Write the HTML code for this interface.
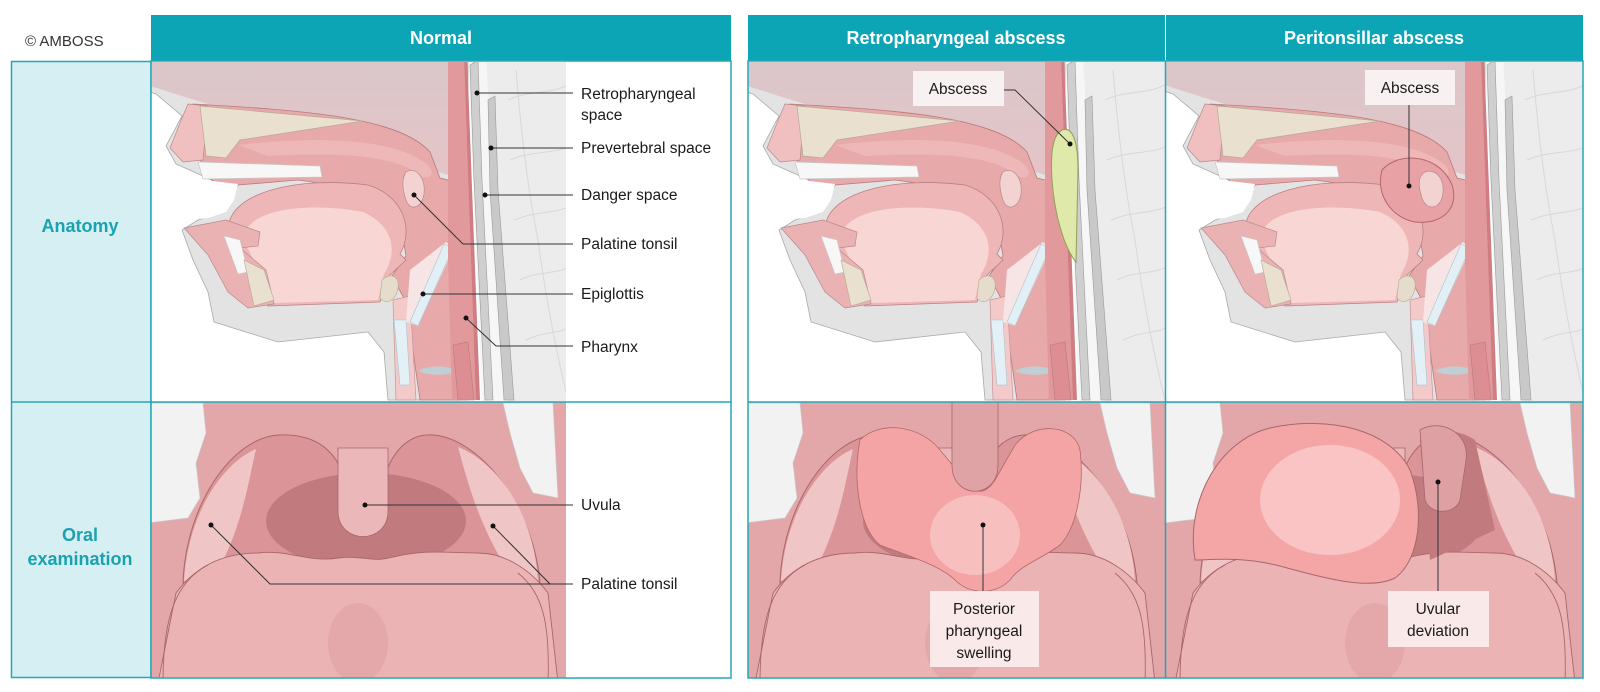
<!DOCTYPE html>
<html><head><meta charset="utf-8"><style>
html,body{margin:0;padding:0;background:#fff;}
svg{display:block;}
text{font-family:"Liberation Sans",Arial,sans-serif;}
</style></head><body>
<svg width="1600" height="692" viewBox="0 0 1600 692" xmlns="http://www.w3.org/2000/svg">
<defs>
<clipPath id="cN1"><rect x="151" y="62" width="415" height="340"/></clipPath>
<clipPath id="cR1"><rect x="748" y="62" width="417" height="340"/></clipPath>
<clipPath id="cP1"><rect x="1165" y="62" width="418" height="340"/></clipPath>
<clipPath id="cN2"><rect x="151" y="402" width="415" height="276"/></clipPath>
<clipPath id="cR2"><rect x="748" y="402" width="417" height="276"/></clipPath>
<clipPath id="cP2"><rect x="1165" y="402" width="418" height="276"/></clipPath>
<linearGradient id="gm" x1="0" y1="0" x2="0" y2="1"><stop offset="0" stop-color="#dac7ca"/><stop offset="1" stop-color="#e5c4c6"/></linearGradient>
<g id="anat">
 <rect x="-10" y="-5" width="440" height="345" fill="#ffffff"/>
 <path d="M-10,-5 L320,-5 L320,340 L240,340 L236,292 L220,272 L130,282 L66,262 L60,232 L45,200 L34,170 L50,160 L75,152 L80,128 L55,116 L28,104 L18,86 L34,56 L8,34 L-10,28 Z" fill="#e3e3e3" stroke="#a9a9a9" stroke-width="0.8"/>
 <path d="M-10,-5 L318,-5 L318,120 L290,112 L270,82 L220,64 L60,44 L40,38 L-10,22 Z" fill="url(#gm)"/>
 <path d="M45,44 C150,50 250,56 282,92 L292,118 L308,122 L312,340 L272,340 L258,242 L244,216 L258,196 L252,160 L222,130 L150,120 L90,125 L76,150 L62,142 L70,126 L54,110 Z" fill="#e8a9ab" stroke="#b97a7d" stroke-width="0.8"/>
 <!-- mouth opening white -->
 <path d="M56,120 L90,124 L86,140 L78,152 L60,158 L40,160 L34,140 L45,126 Z" fill="#ffffff"/>
 <path d="M90,85 C180,75 250,80 280,105 C288,115 282,120 272,116 C250,95 190,92 120,96 Z" fill="#eeb7b8"/>
 <path d="M40,44 L60,46 L55,100 L35,102 L22,88 L34,58 Z" fill="#f0c0c0" stroke="#b98a8c" stroke-width="0.7"/>
 <path d="M52,46 L215,61 L92,80 L78,98 L58,96 Z" fill="#e9e0cf" stroke="#b8a994" stroke-width="0.7"/>
 <path d="M50,102 L172,106 L174,117 L55,119 Z" fill="#f7f7f7" stroke="#c8c8c8" stroke-width="0.7"/>
 <path d="M80,170 C80,132 150,116 220,125 C256,136 266,170 252,194 L258,200 L242,215 L232,242 L120,246 L100,232 Z" fill="#efb6b7" stroke="#b98084" stroke-width="0.8"/>
 <path d="M95,178 C100,148 160,142 215,152 C246,166 250,192 236,214 L230,240 L126,243 Z" fill="#f8d6d4"/>
 <path d="M36,168 L78,160 L112,172 L110,186 L92,188 L118,210 L126,244 L100,248 L80,232 L60,195 Z" fill="#eab2b3" stroke="#b98a8c" stroke-width="0.7"/>
 <path d="M76,176 L92,180 L100,212 L90,214 Z" fill="#f7f7f7" stroke="#c8c8c8" stroke-width="0.6"/>
 <path d="M96,200 L116,210 L126,240 L106,246 Z" fill="#e9e0cf" stroke="#b8a994" stroke-width="0.6"/>
 <path d="M258,112 C268,106 278,118 276,134 C274,148 262,152 258,140 C254,128 254,118 258,112 Z" fill="#f3d2d2" stroke="#b98a8c" stroke-width="0.7"/>
 <path d="M245,240 L262,236 L268,340 L248,340 Z" fill="#f3c9c9" stroke="#c59598" stroke-width="0.7"/>
 <path d="M246,260 L258,260 L262,325 L252,325 Z" fill="#e3f1f6" stroke="#a8c4cf" stroke-width="0.6"/>
 <path d="M234,220 C242,212 252,216 250,228 C248,240 238,246 232,238 Z" fill="#e6dccc" stroke="#b8a994" stroke-width="0.6"/>
 <path d="M262,210 L298,182 L306,188 L270,266 L258,262 Z" fill="#f7e5e5"/>
 <path d="M296,184 L305,188 L270,266 L262,262 Z" fill="#e2f0f6" stroke="#a8c4cf" stroke-width="0.6"/>
 <path d="M270,311 C280,305 300,305 310,311 C300,316 280,316 270,311 Z" fill="#bfcfd3"/>
 <path d="M300,-5 L318,-5 L330,340 L304,340 L300,200 Z" fill="#e2999c"/>
 <path d="M305,285 L320,282 L326,340 L310,340 Z" fill="#dd8e92" stroke="#b97a7d" stroke-width="0.6"/>
 <path d="M316,-5 L319,-5 L332,340 L328,340 Z" fill="#cf7d82"/>
 <path d="M320,-5 L430,-5 L430,345 L334,345 Z" fill="#f6f6f6"/>
 <path d="M338,-5 L430,-5 L430,345 L360,345 C350,250 345,120 338,-5 Z" fill="#ececec"/>
 <path d="M322,5 L330,0 L334,120 L345,340 L337,340 L326,120 Z" fill="#cfcfcf" stroke="#999" stroke-width="0.6"/>
 <path d="M340,40 L347,36 L350,130 L366,340 L356,340 L342,130 Z" fill="#c9c9c9" stroke="#999" stroke-width="0.6"/>
 <g fill="none" stroke="#d8d8d8" stroke-width="1">
  <path d="M360,40 C380,30 400,35 420,25"/><path d="M362,100 C385,90 405,95 425,85"/>
  <path d="M366,160 C390,150 405,155 425,145"/><path d="M372,220 C392,210 410,215 425,205"/>
  <path d="M378,280 C398,270 412,275 425,265"/><path d="M368,10 C372,60 378,120 390,180 C398,240 410,300 420,340"/>
 </g>
</g>
<g id="oral">
 <rect x="-10" y="0" width="440" height="290" fill="#e3a6a9"/>
 <path d="M0,10 L55,10 L58,40 L48,70 L52,105 L40,125 L0,130 Z" fill="#f2f2f2" stroke="#c9c9c9" stroke-width="0.7"/>
 <path d="M355,10 L405,10 L410,105 L385,100 L372,75 L362,40 Z" fill="#f2f2f2" stroke="#c9c9c9" stroke-width="0.7"/>
 <path d="M35,190 C38,110 85,45 130,42 C170,40 190,60 198,90 L235,90 C242,60 260,40 285,42 C330,45 385,110 392,190 Z" fill="#db9598" stroke="#a8676b" stroke-width="1"/>
 <path d="M36,188 C40,120 75,70 108,56 C100,90 95,130 70,178 Z" fill="#f0c5c5"/>
 <path d="M390,188 C386,120 350,70 310,54 C320,90 330,130 360,178 Z" fill="#f0c5c5"/>
 <ellipse cx="218" cy="128" rx="100" ry="48" fill="#c17b7f"/>
 <path d="M190,55 L190,118 C190,152 240,152 240,118 L240,55 Z" fill="#ebb7b8" stroke="#a8676b" stroke-width="0.8"/>
 <path d="M28,200 C50,170 80,160 110,160 C140,156 160,170 190,165 C215,162 225,170 245,164 C280,156 300,160 330,160 C360,160 385,180 400,200 L410,290 L10,290 Z" fill="#ecb3b5" stroke="#a8676b" stroke-width="0.9"/>
 <path d="M15,290 C15,230 25,190 60,172" fill="none" stroke="#a8676b" stroke-width="0.9"/>
 <path d="M400,290 C402,230 395,200 370,180" fill="none" stroke="#a8676b" stroke-width="0.9"/>
 <ellipse cx="210" cy="250" rx="30" ry="40" fill="#dc9da1" opacity="0.5"/>
</g>
</defs>

<text x="25" y="46" font-size="15" fill="#333">© AMBOSS</text>
<rect x="151" y="15" width="580" height="46" fill="#0ba5b6"/>
<rect x="748" y="15" width="417" height="46" fill="#0ba5b6"/>
<rect x="1166" y="15" width="417" height="46" fill="#0ba5b6"/>
<text x="441" y="44" font-size="18" font-weight="bold" fill="#fff" text-anchor="middle">Normal</text>
<text x="956" y="44" font-size="18" font-weight="bold" fill="#fff" text-anchor="middle">Retropharyngeal abscess</text>
<text x="1374" y="44" font-size="18" font-weight="bold" fill="#fff" text-anchor="middle">Peritonsillar abscess</text>

<rect x="11.5" y="61.5" width="139.5" height="616" fill="#d5eff3" stroke="#23a8b6" stroke-width="1.5"/>
<line x1="11" y1="402" x2="151" y2="402" stroke="#23a8b6" stroke-width="1.5"/>
<text x="80" y="232" font-size="18" font-weight="bold" fill="#1aa2b1" text-anchor="middle">Anatomy</text>
<text x="80" y="541" font-size="18" font-weight="bold" fill="#1aa2b1" text-anchor="middle">Oral</text>
<text x="80" y="565" font-size="18" font-weight="bold" fill="#1aa2b1" text-anchor="middle">examination</text>

<g clip-path="url(#cN1)"><use href="#anat" transform="translate(148,60)"/></g>
<g clip-path="url(#cR1)"><use href="#anat" transform="translate(745,60)"/>
 <path d="M1062,130 C1072,126 1078,140 1078,170 L1076,262 C1066,250 1055,220 1052,180 C1050,150 1054,134 1062,130 Z" fill="#dfe9a9" stroke="#8fa05a" stroke-width="1"/>
</g>
<g clip-path="url(#cP1)"><use href="#anat" transform="translate(1165,60)"/>
 <path d="M1382,170 C1400,150 1440,155 1452,185 C1460,210 1440,225 1415,222 C1392,218 1375,195 1382,170 Z" fill="#e8a1a4" stroke="#b2686d" stroke-width="1"/>
 <path d="M1425,172 C1438,168 1446,182 1442,198 C1438,210 1426,210 1422,198 C1418,186 1418,176 1425,172 Z" fill="#f3d2d2" stroke="#b98a8c" stroke-width="0.7"/>
</g>
<g clip-path="url(#cN2)"><use href="#oral" transform="translate(148,393)"/></g>
<g clip-path="url(#cR2)"><use href="#oral" transform="translate(745,393)"/>
 <path d="M860,440 C880,420 920,425 940,450 L965,480 C975,495 985,495 995,480 L1015,445 C1035,420 1075,425 1080,450 C1085,490 1075,530 1060,545 C1040,560 1020,565 1010,580 C995,595 970,595 955,580 C940,565 905,555 880,545 C860,530 852,480 860,440 Z" fill="#f4a4a5" stroke="#b2686d" stroke-width="0.8"/>
 <ellipse cx="975" cy="535" rx="45" ry="40" fill="#f9c6c5" opacity="0.8"/>
 <path d="M952,402 L952,465 C952,500 998,500 998,465 L998,402 Z" fill="#dfa3a5" stroke="#a8676b" stroke-width="0.8"/>
</g>
<g clip-path="url(#cP2)"><use href="#oral" transform="translate(1165,393)"/>
 <path d="M1420,440 C1430,425 1460,430 1475,440 L1495,530 L1430,560 Z" fill="#c17b7f"/>
 <path d="M1420,430 C1440,418 1470,432 1466,460 L1460,500 C1455,515 1430,515 1425,500 Z" fill="#dfa0a3" stroke="#a8676b" stroke-width="0.8"/>
 <path d="M1195,560 C1185,500 1220,440 1270,428 C1330,415 1390,430 1410,470 C1425,510 1420,560 1395,578 C1370,590 1330,580 1280,566 C1240,556 1210,560 1195,560 Z" fill="#f4a6a7" stroke="#a8676b" stroke-width="1"/>
 <ellipse cx="1330" cy="500" rx="70" ry="55" fill="#f9c9c8" opacity="0.85"/>
</g>

<g fill="none" stroke="#23a8b6" stroke-width="1.5">
 <rect x="151" y="61" width="580" height="617"/>
 <line x1="151" y1="402" x2="731" y2="402"/>
 <rect x="748" y="61" width="835" height="617"/>
 <line x1="748" y1="402" x2="1583" y2="402"/>
 <line x1="1165.5" y1="61" x2="1165.5" y2="678"/>
</g>

<g stroke="#333" stroke-width="1" fill="none">
 <path d="M477,93 L573,93"/><path d="M491,148 L573,148"/><path d="M485,195 L573,195"/>
 <path d="M414,195 L463,244 L573,244"/><path d="M423,294 L573,294"/>
 <path d="M466,318 L496,346 L573,346"/>
 <path d="M365,505 L573,505"/>
 <path d="M211,525 L270,584 L573,584"/><path d="M493,526 L550,584"/>
 <path d="M1004,90 L1015,90 L1070,144"/>
 <path d="M1409,105 L1409,186"/>
 <path d="M983,525 L983,591"/>
 <path d="M1438,482 L1438,591"/>
</g>
<g fill="#111">
 <circle cx="477" cy="93" r="2.5"/><circle cx="491" cy="148" r="2.5"/><circle cx="485" cy="195" r="2.5"/>
 <circle cx="414" cy="195" r="2.5"/><circle cx="423" cy="294" r="2.5"/><circle cx="466" cy="318" r="2.5"/>
 <circle cx="365" cy="505" r="2.5"/><circle cx="211" cy="525" r="2.5"/><circle cx="493" cy="526" r="2.5"/>
 <circle cx="1070" cy="144" r="2.5"/><circle cx="1409" cy="186" r="2.5"/><circle cx="983" cy="525" r="2.5"/><circle cx="1438" cy="482" r="2.5"/>
</g>
<g font-size="15.5" fill="#1a1a1a">
 <text x="581" y="99">Retropharyngeal</text>
 <text x="581" y="120">space</text>
 <text x="581" y="153">Prevertebral space</text>
 <text x="581" y="200">Danger space</text>
 <text x="581" y="249">Palatine tonsil</text>
 <text x="581" y="299">Epiglottis</text>
 <text x="581" y="352">Pharynx</text>
 <text x="581" y="510">Uvula</text>
 <text x="581" y="589">Palatine tonsil</text>
</g>
<rect x="913" y="71" width="91" height="35" fill="#f7f1f1"/>
<rect x="1365" y="70" width="90" height="35" fill="#f7f1f1"/>
<rect x="930" y="591" width="109" height="76" fill="#f9e9e9"/>
<rect x="1388" y="591" width="101" height="56" fill="#f9e9e9"/>
<g font-size="15.5" fill="#1a1a1a" text-anchor="middle">
 <text x="958" y="94">Abscess</text>
 <text x="1410" y="93">Abscess</text>
 <text x="984" y="614">Posterior</text>
 <text x="984" y="636">pharyngeal</text>
 <text x="984" y="658">swelling</text>
 <text x="1438" y="614">Uvular</text>
 <text x="1438" y="636">deviation</text>
</g>
</svg>
</body></html>
